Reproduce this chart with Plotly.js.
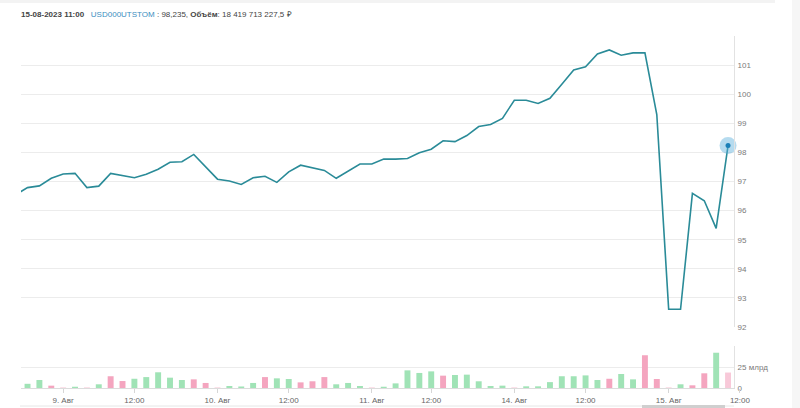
<!DOCTYPE html>
<html><head><meta charset="utf-8">
<script src="https://cdn.plot.ly/plotly-3.0.1.min.js"></script>
<style>html,body{margin:0;padding:0;background:#fff}#chart{width:800px;height:408px}</style>
</head><body><div id="chart"></div>
<script>
const ticker = 'USD000UTSTOM';
const times = [
 '2023-08-08 15:00','2023-08-08 16:00','2023-08-08 17:00','2023-08-08 18:00',
 '2023-08-09 06:00','2023-08-09 07:00','2023-08-09 08:00','2023-08-09 09:00','2023-08-09 10:00','2023-08-09 11:00','2023-08-09 12:00','2023-08-09 13:00','2023-08-09 14:00','2023-08-09 15:00','2023-08-09 16:00','2023-08-09 17:00','2023-08-09 18:00',
 '2023-08-10 06:00','2023-08-10 07:00','2023-08-10 08:00','2023-08-10 09:00','2023-08-10 10:00','2023-08-10 11:00','2023-08-10 12:00','2023-08-10 13:00','2023-08-10 14:00','2023-08-10 15:00','2023-08-10 16:00','2023-08-10 17:00','2023-08-10 18:00',
 '2023-08-11 07:00','2023-08-11 08:00','2023-08-11 09:00','2023-08-11 10:00','2023-08-11 11:00','2023-08-11 12:00','2023-08-11 13:00','2023-08-11 14:00','2023-08-11 15:00','2023-08-11 16:00','2023-08-11 17:00','2023-08-11 18:00',
 '2023-08-14 06:00','2023-08-14 07:00','2023-08-14 08:00','2023-08-14 09:00','2023-08-14 10:00','2023-08-14 11:00','2023-08-14 12:00','2023-08-14 13:00','2023-08-14 14:00','2023-08-14 15:00','2023-08-14 16:00','2023-08-14 17:00','2023-08-14 18:00',
 '2023-08-15 06:00','2023-08-15 07:00','2023-08-15 08:00','2023-08-15 09:00','2023-08-15 10:00','2023-08-15 11:00'
];
const price = [
 96.55, 96.79, 96.85, 97.11,
 97.26, 97.28, 96.79, 96.84, 97.28, 97.20, 97.13, 97.25, 97.42, 97.66, 97.68, 97.93, 97.51,
 97.08, 97.02, 96.90, 97.13, 97.18, 96.97, 97.33, 97.56, 97.47, 97.38, 97.11, 97.37, 97.60,
 97.60, 97.77, 97.77, 97.79, 97.99, 98.11, 98.40, 98.37, 98.58, 98.89, 98.96, 99.17,
 99.79, 99.79, 99.68, 99.86, 100.34, 100.83, 100.94, 101.38, 101.52, 101.34, 101.42, 101.42, 99.30,
 92.61, 92.61, 96.59, 96.34, 95.39, 98.235
];
// volume, billions of roubles
const volume = [
 6, 5, 9.5, 2.8,
 0.4, 1.5, 0.4, 4.4, 14, 8.3, 11, 13, 18.7, 12.3, 9.5, 10.3, 6,
 0.4, 2.4, 1.8, 6, 13, 11.5, 10.7, 6.7, 8, 13, 4.4, 6, 2.4,
 0.4, 1.5, 5.5, 21, 17.9, 19.8, 14.7, 15.5, 15.9, 8, 2.4, 2.8,
 0.4, 2, 2, 7, 14, 14, 15, 9.5, 11, 16.7, 10.3, 39, 10.7,
 0.4, 4.4, 3.2, 17.5, 42, 18.42
];
const direction = [
 'u','u','u','d',
 'd','u','d','u','d','d','u','u','u','u','u','d','d',
 'd','u','u','u','d','u','u','d','d','d','u','u','u',
 'd','u','u','u','u','u','d','u','u','u','u','u',
 'd','u','u','u','u','u','u','u','d','u','u','d','d',
 'd','u','d','d','u','d'
];
const headerVolume = 18419713227.5;
const months = ['Янв','Фев','Мар','Апр','Май','Июн','Июл','Авг','Сен','Окт','Ноя','Дек'];
const priceTicks = [92,93,94,95,96,97,98,99,100,101,102];
const volTicks = [0,25,50];
const volTickText = ['0','25 млрд',''];

const idx = times.map((t,i)=>i);
const last = times.length-1;

// ordinal ticks
const tickvals=[], ticktext=[];
times.forEach((t,i)=>{
  const [d,h]=t.split(' ');
  const prevD = i>0 ? times[i-1].split(' ')[0] : null;
  if (i>0 && d!==prevD){ const p=d.split('-'); tickvals.push(i); ticktext.push(parseInt(p[2],10)+'. '+months[parseInt(p[1],10)-1]); }
  else if (h==='12:00'){ tickvals.push(i); ticktext.push('12:00'); }
});
const lastHour = parseInt(times[last].split(' ')[1],10);
if (lastHour+1===12){ tickvals.push(times.length); ticktext.push('12:00'); }

// header
const [ld, lt] = times[last].split(' ');
const lp = ld.split('-');
const headTime = lp[2]+'-'+lp[1]+'-'+lp[0]+' '+lt;
const headPrice = price[last].toFixed(3).replace('.',',');
const vInt = Math.floor(headerVolume).toString().replace(/\B(?=(\d{3})+(?!\d))/g,' ');
const vFrac = (headerVolume%1).toFixed(1).slice(2);
const headVol = vInt+','+vFrac;
const nb='\u00A0';
const header = '<b>'+headTime+'</b>'+nb+nb+nb+'<span style="color:#3b8ec0">'+ticker+'</span> : '+headPrice+', <b>Объём</b>: '+headVol+' ₽';

// layout constants (px)
const W=800,H=408, plotL=21, plotR=734, priceTop=36, priceBot=327, volTop=346, volBot=388, labR=770;
const scale=11.873, xr0=0.45;
const xr1 = xr0+(plotR-plotL)/scale;

const traces = [
 {type:'scatter', mode:'lines', x:idx, y:price, xaxis:'x', yaxis:'y', line:{color:'#2a8b98', width:1.6}, hoverinfo:'skip'},
 {type:'scatter', mode:'markers', x:[idx[last]], y:[price[last]], xaxis:'x', yaxis:'y', marker:{size:17, color:'rgba(90,175,220,0.45)'}, cliponaxis:false, hoverinfo:'skip'},
 {type:'scatter', mode:'markers', x:[idx[last]], y:[price[last]], xaxis:'x', yaxis:'y', marker:{size:5, color:'#1b80b8'}, cliponaxis:false, hoverinfo:'skip'},
 {type:'bar', x:idx, y:volume, xaxis:'x2', yaxis:'y2', width:0.5,
  marker:{color:direction.map(d=>d==='u'?'#a0e3b6':'#f4a5bf'), opacity:idx.map(i=>i===last?0.6:1), line:{width:0}}, hoverinfo:'skip'},
 {type:'scatter', mode:'markers', x:[0], y:[0], xaxis:'x3', yaxis:'y3', marker:{opacity:0}, hoverinfo:'skip'}
];

const layout = {
 width:W, height:H, margin:{l:0,r:0,t:0,b:0}, paper_bgcolor:'#fff', plot_bgcolor:'rgba(0,0,0,0)',
 showlegend:false, hovermode:false,
 font:{family:'Arial, "Liberation Sans", sans-serif', size:8, color:'#777'},
 xaxis:{domain:[plotL/W, plotR/W], range:[xr0,xr1], anchor:'y', showgrid:false, zeroline:false, showticklabels:false, showline:false},
 yaxis:{domain:[1-priceBot/H, 1-priceTop/H], range:[92,102], side:'right', anchor:'x',
   tickvals:priceTicks, ticktext:priceTicks.map(v=>v===102?'':String(v)), gridcolor:'#ececec', gridwidth:1,
   showline:true, linecolor:'#e2e2e2', linewidth:1, zeroline:false, ticks:'', ticklabelstandoff:1, tickfont:{size:8,color:'#7a7a7a'}},
 xaxis2:{domain:[plotL/W, plotR/W], range:[xr0,xr1], anchor:'y2', showgrid:false, zeroline:false, showticklabels:false, showline:true, linecolor:'#dcdcdc', linewidth:1},
 yaxis2:{domain:[1-volBot/H, 1-volTop/H], range:[0,50], side:'right', anchor:'x2',
   tickvals:volTicks, ticktext:volTickText, gridcolor:'#ececec', showline:true, linecolor:'#e2e2e2', zeroline:false, ticks:'', ticklabelstandoff:1, tickfont:{size:8,color:'#7a7a7a'}},
 xaxis3:{domain:[plotL/W, labR/W], range:[xr0, xr0+(labR-plotL)/scale], anchor:'y3', tickvals:tickvals, ticktext:ticktext,
   ticks:'outside', ticklen:4, tickcolor:'#d6d6d6', showgrid:false, zeroline:false, showline:false, tickfont:{size:8,color:'#666'}},
 yaxis3:{domain:[1-volBot/H, 1-volTop/H], range:[0,1], visible:false},
 annotations:[{text:header, xref:'paper', yref:'paper', x:19/W, y:1-15/H, xanchor:'left', yanchor:'middle', showarrow:false,
   font:{family:'Arial, "Liberation Sans", sans-serif', size:8, color:'#444'}}],
 shapes:[
  {type:'rect', xref:'paper', yref:'paper', x0:0, x1:775/W, y0:1-3/H, y1:1, fillcolor:'#f3f3f3', line:{width:0}, layer:'below'},
  {type:'rect', xref:'paper', yref:'paper', x0:792/W, x1:1, y0:0, y1:1, fillcolor:'#f6f6f6', line:{width:0}, layer:'below'},
  {type:'line', xref:'paper', yref:'paper', x0:20/W, x1:plotR/W, y0:1-406/H, y1:1-406/H, line:{color:'#e6e6e6', width:1}},
  {type:'rect', xref:'paper', yref:'paper', x0:642/W, x1:725/W, y0:0, y1:1-405/H, fillcolor:'#cfcfcf', line:{width:0}}
 ]
};
Plotly.newPlot('chart', traces, layout, {displayModeBar:false, staticPlot:true});
</script></body></html>
